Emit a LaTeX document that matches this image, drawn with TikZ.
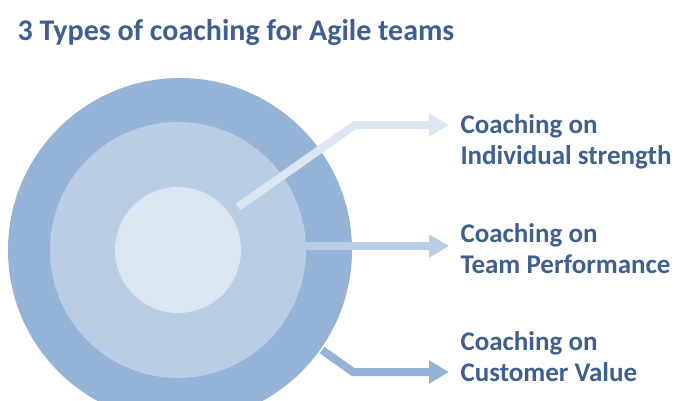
\documentclass[tikz,border=0pt]{standalone}
\usepackage{fontspec}
\setmainfont{Carlito}
\usetikzlibrary{arrows.meta}
\definecolor{txt}{HTML}{3F5F8F}
\definecolor{c1}{HTML}{95B3D7}
\definecolor{c2}{HTML}{B9CDE5}
\definecolor{c3}{HTML}{DCE6F2}
\begin{document}
\begin{tikzpicture}[x=1pt,y=1pt,
  lbl/.style={anchor=west,text=txt,font=\fontsize{27}{31}\selectfont\bfseries,align=left},
  arr/.style={line width=8pt,-{Triangle[width=22pt,length=20pt]}}]
\useasboundingbox (0,0) rectangle (699,400);
\begin{scope}
\clip (0,0) rectangle (699,400);
\fill[c1] (180,150) circle (172);
\fill[c2] (178,150) circle (128);
\fill[c3] (178,150) circle (63);
\end{scope}
\node[anchor=west,text=txt,font=\fontsize{30}{34}\selectfont\bfseries] (title) at (14,367) {3 Types of coaching for Agile teams};
\node[lbl] (l1) at (457,258) {Coaching on\\Individual strength};
\node[lbl] (l2) at (457,151) {Coaching on\\Team Performance};
\node[lbl] (l3) at (457,43) {Coaching on\\Customer Value};
\coordinate (s1) at (238,193);
\coordinate (s2) at (306,154);
\coordinate (s3) at (322,50);
\draw[arr,c3] (s1) -- (355,275) -- (449,275);
\draw[arr,c2] (s2) -- (449,154);
\draw[arr,c1] (s3) -- (353,28) -- (449,28);
\end{tikzpicture}
\end{document}
